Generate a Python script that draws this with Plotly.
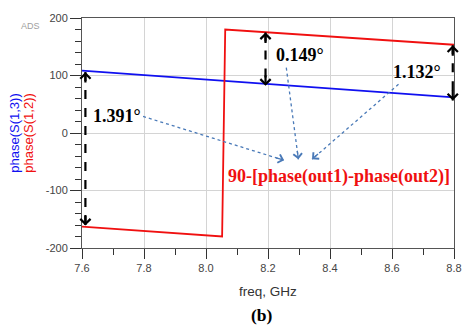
import math
import plotly.graph_objects as go

# ---- data ----
freq_blue = [7.6, 8.2, 8.8]
phase_s13 = [108.5, 85.0, 62.0]

freq_red = [7.6, 8.052, 8.062, 8.8]
phase_s12 = [-163.0, -180.0, 180.0, 153.5]

x_ticks = [7.6, 7.8, 8.0, 8.2, 8.4, 8.6, 8.8]
x_tick_text = ["7.6", "7.8", "8.0", "8.2", "8.4", "8.6", "8.8"]
y_ticks = [-200, -100, 0, 100, 200]
y_tick_text = ["-200", "-100", "0", "100", "200"]

# double-headed dashed arrows: x, y_top, y_bottom
diff_x = [7.611, 8.192, 8.796]
diff_top = [106.0, 175.0, 152.5]
diff_bot = [-161.0, 82.0, 56.5]

# labels
label_text = ["1.391°", "0.149°", "1.132°"]
label_x = [7.712, 8.304, 8.681]
label_y = [28.8, 135.6, 106.8]

formula_text = "90-[phase(out1)-phase(out2)]"
formula_x = 8.429
formula_y = -76.0

# dotted pointer arrows: start (x, y) -> end (x, y)
ptr_x0 = [7.797, 8.259, 8.621]
ptr_y0 = [28.8, 113.6, 84.7]
ptr_x1 = [8.252, 8.298, 8.342]
ptr_y1 = [-47.5, -45.8, -45.8]

BLUE = "#1010f0"
RED = "#f01010"
PTR = "#4a7ab8"

# plot area geometry (pixels) used only to orient arrow heads
PLOT_W, PLOT_H = 374, 236
X_RANGE, Y_RANGE = (7.6, 8.8), (-200, 200)
sx = PLOT_W / (X_RANGE[1] - X_RANGE[0])
sy = PLOT_H / (Y_RANGE[1] - Y_RANGE[0])

fig = go.Figure()
fig.add_trace(go.Scatter(x=freq_blue, y=phase_s13, mode="lines",
                         line=dict(color=BLUE, width=1.8), showlegend=False))
fig.add_trace(go.Scatter(x=freq_red, y=phase_s12, mode="lines",
                         line=dict(color=RED, width=1.8), showlegend=False))

annotations = []
# dashed double arrows
for xv, yt, yb in zip(diff_x, diff_top, diff_bot):
    fig.add_trace(go.Scatter(x=[xv, xv], y=[yt, yb], mode="lines",
                             line=dict(color="black", width=2.2, dash="dash"),
                             showlegend=False, hoverinfo="skip"))
    annotations.append(dict(x=xv, y=yt, xref="x", yref="y", text="", showarrow=True,
                            ax=0, ay=12, arrowhead=4, arrowsize=0.9, arrowwidth=2.2,
                            arrowcolor="black"))
    annotations.append(dict(x=xv, y=yb, xref="x", yref="y", text="", showarrow=True,
                            ax=0, ay=-12, arrowhead=4, arrowsize=0.9, arrowwidth=2.2,
                            arrowcolor="black"))

# dotted pointers
for x0, y0, x1, y1 in zip(ptr_x0, ptr_y0, ptr_x1, ptr_y1):
    fig.add_trace(go.Scatter(x=[x0, x1], y=[y0, y1], mode="lines",
                             line=dict(color=PTR, width=1.3, dash="dot"),
                             showlegend=False, hoverinfo="skip"))
    dx = (x0 - x1) * sx
    dy = -(y0 - y1) * sy
    n = math.hypot(dx, dy)
    annotations.append(dict(x=x1, y=y1, xref="x", yref="y", text="", showarrow=True,
                            ax=dx / n * 10, ay=dy / n * 10,
                            arrowhead=4, arrowsize=1.3, arrowwidth=1.3,
                            arrowcolor=PTR))

for t, xv, yv in zip(label_text, label_x, label_y):
    annotations.append(dict(x=xv, y=yv, xref="x", yref="y", text="<b>%s</b>" % t,
                            showarrow=False, xanchor="center", yanchor="middle",
                            font=dict(family="Liberation Serif", size=18, color="black")))

annotations.append(dict(x=formula_x, y=formula_y, xref="x", yref="y",
                        text="<b>%s</b>" % formula_text, showarrow=False,
                        xanchor="center", yanchor="middle",
                        font=dict(family="Liberation Serif", size=18, color=RED)))

# axis titles etc
annotations.append(dict(x=-0.1835, y=0.5, xref="paper", yref="paper", text="phase(S(1,3))",
                        textangle=-90, showarrow=False, xanchor="center", yanchor="middle",
                        font=dict(family="Liberation Sans", size=13, color=BLUE)))
annotations.append(dict(x=-0.146, y=0.5, xref="paper", yref="paper", text="phase(S(1,2))",
                        textangle=-90, showarrow=False, xanchor="center", yanchor="middle",
                        font=dict(family="Liberation Sans", size=13, color=RED)))
annotations.append(dict(x=-0.138, y=0.966, xref="paper", yref="paper", text="ADS",
                        showarrow=False, xanchor="center", yanchor="middle",
                        font=dict(family="Liberation Sans", size=9, color="#a0a0a0")))
annotations.append(dict(x=0.5, y=-0.19, xref="paper", yref="paper", text="freq, GHz",
                        showarrow=False, xanchor="center", yanchor="middle",
                        font=dict(family="Liberation Sans", size=13.5, color="#333333")))
annotations.append(dict(x=0.485, y=-0.292, xref="paper", yref="paper", text="<b>(b)</b>",
                        showarrow=False, xanchor="center", yanchor="middle",
                        font=dict(family="Liberation Serif", size=17.5, color="black")))

fig.update_layout(
    width=474, height=326,
    margin=dict(l=82, r=18, t=12, b=78),
    paper_bgcolor="white", plot_bgcolor="white",
    annotations=annotations,
    showlegend=False,
)
fig.update_xaxes(range=list(X_RANGE), tickvals=x_ticks, ticktext=x_tick_text,
                 ticks="outside", ticklen=10, tickcolor="#333", tickwidth=1,
                 showline=True, linecolor="#555", linewidth=1, mirror=True,
                 showgrid=True, gridcolor="#d4d4d4", gridwidth=1, zeroline=False,
                 tickfont=dict(family="Liberation Sans", size=11, color="#444"),
                 minor=dict(dtick=0.1, ticks="outside", ticklen=6, tickcolor="#333",
                            showgrid=False))
fig.update_yaxes(range=list(Y_RANGE), tickvals=y_ticks, ticktext=y_tick_text,
                 ticks="outside", ticklen=11, tickcolor="#333", tickwidth=1,
                 showline=True, linecolor="#555", linewidth=1, mirror=True,
                 showgrid=True, gridcolor="#d4d4d4", gridwidth=1, zeroline=False,
                 tickfont=dict(family="Liberation Sans", size=11, color="#444"),
                 minor=dict(dtick=20, ticks="outside", ticklen=6, tickcolor="#333",
                            showgrid=False))

fig.write_html("out.html")
